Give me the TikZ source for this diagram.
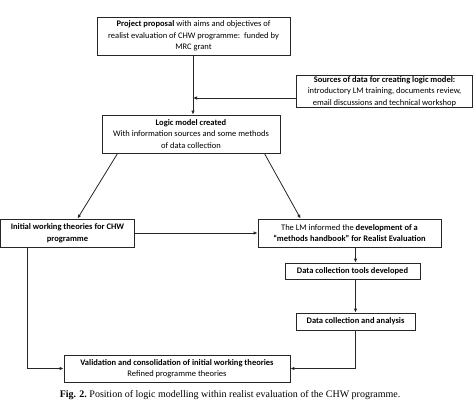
\documentclass[tikz,border=0pt]{standalone}
\usepackage{fontspec}
\setmainfont{Carlito}
\newfontfamily\capfont{Liberation Serif}
\usetikzlibrary{arrows.meta}
\begin{document}
\begin{tikzpicture}[x=1pt,y=-1pt,
  box/.style={draw=black!85,line width=0.8pt,rectangle,align=center,inner sep=1pt,font=\fontsize{8.5}{11.5}\selectfont},
  conn/.style={draw=black!85,line width=0.8pt},
  arr/.style={conn,-{Latex[length=4pt,width=3.5pt]}}]
\useasboundingbox (0,0) rectangle (474,400);
\node[box,minimum width=193pt,minimum height=38pt] (prop) at (193.5,36)
  {\textbf{Project proposal} with aims and objectives of\\realist evaluation of CHW programme:\ \ funded by\\MRC grant};
\node[box,minimum width=176pt,minimum height=29pt] (src) at (384.5,91.5)
  {\textbf{Sources of data for creating logic model:}\\introductory LM training, documents review,\\email discussions and technical workshop};
\node[box,minimum width=178pt,minimum height=38pt] (lm) at (191,134)
  {\textbf{Logic model created}\\With information sources and some methods\\of data collection};
\node[box,minimum width=134pt,minimum height=28pt] (iwt) at (67.5,233)
  {\textbf{Initial working theories for CHW}\\\textbf{programme}};
\node[box,minimum width=183pt,minimum height=28pt] (lmh) at (349.5,233)
  {The LM informed the \textbf{development of a}\\\textbf{``methods handbook'' for Realist Evaluation}};
\node[box,minimum width=135pt,minimum height=16pt] (tools) at (352.5,271)
  {\textbf{Data collection tools developed}};
\node[box,minimum width=119pt,minimum height=17pt] (anal) at (355.5,321.5)
  {\textbf{Data collection and analysis}};
\node[box,minimum width=226pt,minimum height=27pt] (val) at (177,368.5)
  {\textbf{Validation and consolidation of initial working theories}\\Refined programme theories};
\node[anchor=base,font=\capfont\fontsize{10}{12}\selectfont] (cap) at (230,397.5)
  {\textbf{Fig. 2.}\ Position of logic modelling within realist evaluation of the CHW programme.};
\coordinate (vx) at (193,0);
\draw[arr] (prop.south -| vx) -- (lm.north -| vx);
\draw[arr] ([yshift=-6.5pt]src.west) -- ([yshift=-6.5pt]src.west -| vx);
\draw[arr] ([xshift=16pt]lm.south west) -- ([xshift=10pt]iwt.north);
\draw[arr] ([xshift=-16pt]lm.south east) -- ([xshift=43pt]lmh.north west);
\draw[arr] (iwt.east) -- (lmh.west);
\draw[arr] (lmh.south -| anal.north) -- (tools.north -| anal.north);
\draw[arr] (tools.south -| anal.north) -- (anal.north);
\draw[arr] (anal.south) |- (val.east);
\draw[arr] ([xshift=-40.5pt]iwt.south) |- (val.west);
\end{tikzpicture}
\end{document}
